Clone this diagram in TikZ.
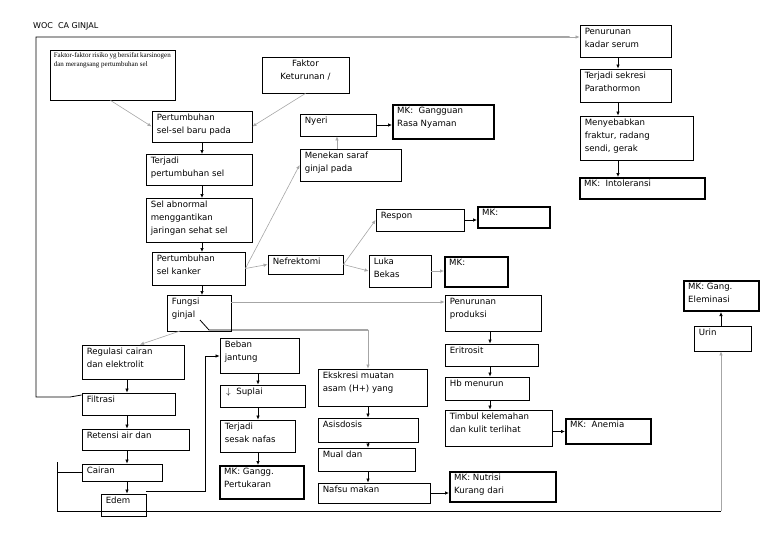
\documentclass[tikz,border=0pt]{standalone}
\usepackage{fontspec}
\setmainfont{DejaVu Sans}
\newfontfamily\tms{Liberation Serif}
\usetikzlibrary{fit,arrows.meta}
\tikzset{
 box/.style={draw,line width=0.8pt,inner sep=0pt},
 mk/.style={draw,line width=2pt,inner sep=0pt},
 txt/.style={anchor=north west,align=left,inner sep=0pt,font=\fontsize{8.6}{13}\selectfont},
 ar/.style={-{Latex[length=4pt,width=3.5pt]},line width=0.7pt},
 gr/.style={-{Latex[length=4pt,width=3.5pt]},line width=0.6pt,draw=black!35},
 ln/.style={line width=0.8pt},
}
\newcommand\bx[7]{\node[#1,fit={(#3,#4) (#5,#6)}] (#2) {};
 \node[txt] at ([shift={(5pt,-3pt)}]#2.north west) {#7};}
\begin{document}
\begin{tikzpicture}[x=1pt,y=-1pt]
\useasboundingbox (0,0) rectangle (768,543);
\node[anchor=west,inner sep=0pt,font=\fontsize{8}{10}\selectfont] (title) at (33,26) {WOC\ \ CA GINJAL};
\node[box,fit={(50,50) (175,100)}] (fak) {};
\node[anchor=north west,inner sep=0pt,text width=117pt,align=justify,font=\tms\fontsize{7}{8.7}\selectfont] at ([shift={(4pt,-3pt)}]fak.north west) {Faktor-faktor risiko yg bersifat karsinogen dan merangsang pertumbuhan sel};
\node[box,fit={(262,57) (349,93)}] (ket) {};
\node[txt,align=center,anchor=north] at ([yshift=-3pt]ket.north) {Faktor\\Keturunan /};
\bx{box}{pb}{152}{111}{252}{142}{Pertumbuhan\\sel-sel baru pada}
\bx{box}{tp}{146}{154}{252}{185}{Terjadi\\pertumbuhan sel}
\bx{box}{sa}{146}{198}{252}{242}{Sel abnormal\\menggantikan\\jaringan sehat sel}
\bx{box}{pk}{152}{252}{245}{285}{Pertumbuhan\\sel kanker}
\bx{box}{fg}{167}{295}{231}{331}{Fungsi\\ginjal}
\bx{box}{ny}{300}{114}{376}{136}{Nyeri}
\bx{mk}{mkg}{393}{105}{494}{139}{MK:\ \ Gangguan\\Rasa Nyaman}
\bx{box}{ms}{300}{149}{401}{181}{Menekan saraf\\ginjal pada}
\bx{box}{rp}{376}{209}{464}{231}{Respon}
\bx{mk}{mkr}{478}{207}{550}{228}{MK:}
\bx{box}{nf}{268}{255}{343}{274}{Nefrektomi}
\bx{box}{lb}{369}{255}{431}{287}{Luka\\Bekas}
\bx{mk}{mkl}{445}{257}{508}{287}{MK:}
\bx{box}{rg}{82}{345}{184}{379}{Regulasi cairan\\dan elektrolit}
\bx{box}{fi}{82}{393}{175}{415}{Filtrasi}
\bx{box}{re}{82}{429}{189}{450}{Retensi air dan}
\bx{box}{ca}{82}{464}{162}{481}{Cairan}
\bx{box}{ed}{101}{494}{146}{516}{Edem}
\bx{box}{bj}{220}{338}{299}{373}{Beban\\jantung}
\bx{box}{su}{220}{385}{305}{407}{\,$\downarrow$\ \ Suplai}
\bx{box}{ts}{220}{420}{295}{452}{Terjadi\\sesak nafas}
\bx{mk}{mkp}{220}{466}{304}{499}{MK: Gangg.\\Pertukaran}
\bx{box}{ek}{318}{369}{427}{406}{Ekskresi muatan\\asam (H+) yang}
\bx{box}{as}{318}{418}{418}{442}{Asisdosis}
\bx{box}{mu}{318}{448}{415}{471}{Mual dan}
\bx{box}{nm}{318}{483}{430}{503}{Nafsu makan}
\bx{mk}{mkn}{450}{472}{556}{502}{MK: Nutrisi\\Kurang dari}
\bx{box}{pp}{445}{295}{541}{331}{Penurunan\\produksi}
\bx{box}{er}{445}{344}{538}{366}{Eritrosit}
\bx{box}{hb}{445}{377}{529}{400}{Hb menurun}
\bx{box}{tk}{445}{410}{552}{446}{Timbul kelemahan\\dan kulit terlihat}
\bx{mk}{mka}{566}{419}{651}{444}{MK:\ \ Anemia}
\bx{box}{ks}{580}{25}{671}{57}{Penurunan\\kadar serum}
\bx{box}{ph}{580}{69}{671}{102}{Terjadi sekresi\\Parathormon}
\bx{box}{my}{580}{116}{693}{160}{Menyebabkan\\fraktur, radang\\sendi, gerak}
\bx{mk}{mki}{580}{178}{705}{199}{MK:\ \ Intoleransi}
\bx{mk}{mke}{684}{281}{759}{311}{MK: Gang.\\Eleminasi}
\bx{box}{ur}{694}{326}{751}{351}{Urin}
% connectors
\draw[gr] (fak.south) ++(-2,0) -- (pb.west);
\draw[gr] (ket.south) -- (pb.east);
\draw[ar] (pb.south -| 202,0) -- (202,154);
\draw[ar] (tp.south -| 202,0) -- (202,198);
\draw[ar] (sa.south -| 202,0) -- (202,252);
\draw[ar] (pk.south -| 202,0) -- (202,295);
\draw[gr] (pk.east) -- (ms.west);
\draw[gr] (pk.east) -- (nf.west);
\draw[gr] (ms.north -| 337,0) -- (ny.south -| 337,0);
\draw[ar] (ny.east) -- (ny.east -| mkg.west);
\draw[gr] (nf.east) -- (rp.west);
\draw[gr] (nf.east) -- (lb.west);
\draw[ar] (rp.east) -- (rp.east -| mkr.west);
\draw[gr] (lb.east) -- (lb.east -| mkl.west);
\draw[gr] (fg.east |- 0,302) -- (pp.west |- 0,302);
\draw[ln] (200,320) -- (209,330) -- (368,330);
\draw[gr] (368,330) -- (ek.north -| 368,0);
\draw[gr] (180,331) -- (rg.north -| 140,0);
\draw[ar] (rg.south -| 127,0) -- (fi.north -| 127,0);
\draw[ar] (fi.south -| 127,0) -- (re.north -| 127,0);
\draw[ar] (re.south -| 127,0) -- (ca.north -| 127,0);
\draw[ar] (ca.south -| 127,0) -- (ed.north -| 127,0);
\draw[ln] (ks.west |- 0,37) ++(-10,0) -- (36,37) -- (36,397) -- (70,397) -- (fi.west |- 0,395);
\draw[gr] (560,37) -- (ks.west |- 0,37);
\draw[ln] (ca.west |- 0,472) -- (57,472);
\draw[ln] (57,462) -- (57,511) -- (721,511);
\draw[gr] (721,511) -- (ur.south -| 721,0);
\draw[ar] (ur.north -| 721,0) -- (mke.south -| 721,0);
\draw[ln] (ed.east |- 0,491) -- (205,491) -- (205,356);
\draw[ar] (205,356) -- (bj.west |- 0,356);
\draw[ar] (bj.south -| 258,0) -- (su.north -| 258,0);
\draw[ar] (su.south -| 258,0) -- (ts.north -| 258,0);
\draw[ar] (ts.south -| 258,0) -- (mkp.north -| 258,0);
\draw[ar] (ek.south -| 368,0) -- (as.north -| 368,0);
\draw[ar] (as.south -| 368,0) -- (mu.north -| 368,0);
\draw[ar] (mu.south -| 368,0) -- (nm.north -| 368,0);
\draw[ar] (nm.east) -- (nm.east -| mkn.west);
\draw[ar] (pp.south -| 490,0) -- (er.north -| 490,0);
\draw[ar] (er.south -| 490,0) -- (hb.north -| 490,0);
\draw[ar] (hb.south -| 490,0) -- (tk.north -| 490,0);
\draw[ar] (tk.east |- mka.west) -- (mka.west);
\draw[ar] (ks.south -| 618,0) -- (ph.north -| 618,0);
\draw[ar] (ph.south -| 618,0) -- (my.north -| 618,0);
\draw[ar] (my.south -| 618,0) -- (mki.north -| 618,0);
\end{tikzpicture}
\end{document}
